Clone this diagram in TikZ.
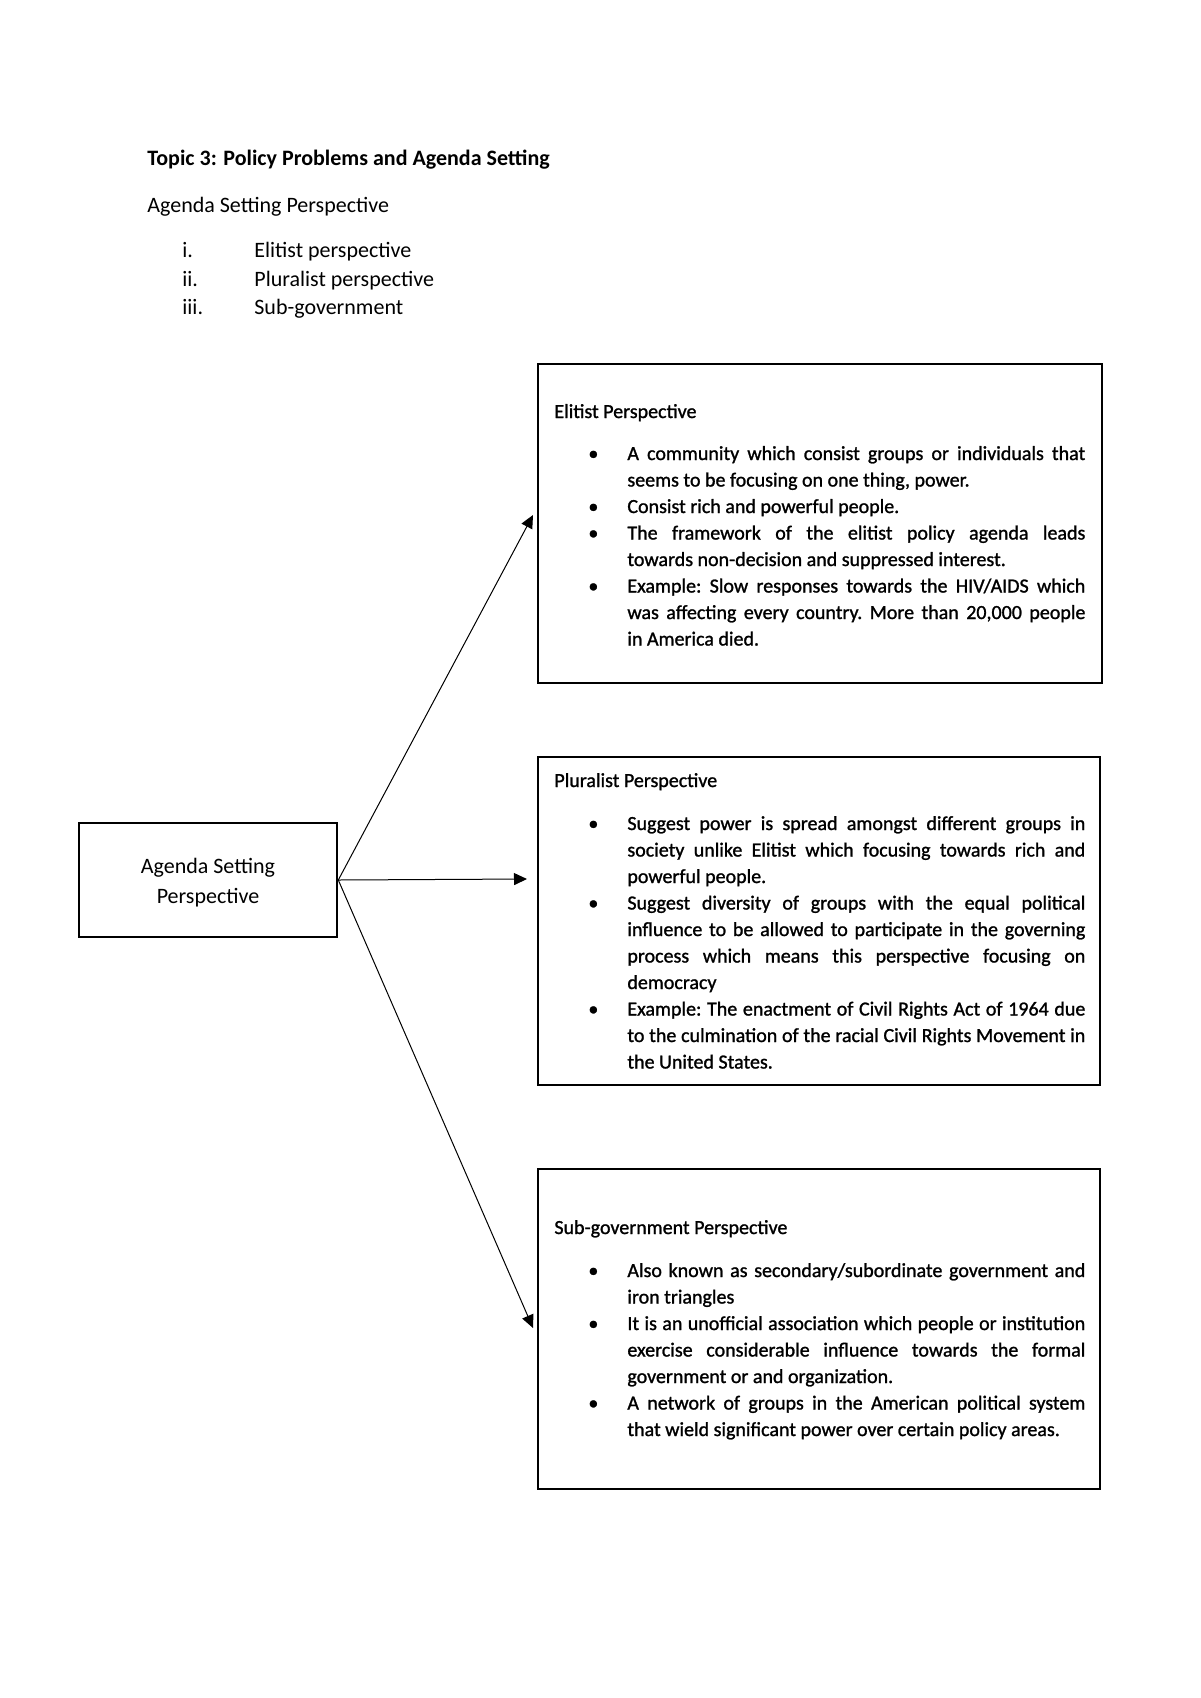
\documentclass[tikz,border=0pt]{standalone}
\usepackage{fontspec}
\setmainfont{Carlito}
\newfontfamily\boxfont{Carlito}[FakeBold=1.2]
\usetikzlibrary{arrows.meta}
\newcommand{\bitem}[1]{\noindent\hangindent=36.5pt\hangafter=0\llap{\makebox[19.5pt][l]{\textbullet}}#1\par}
\tikzset{
  plain/.style={anchor=base west, inner sep=0pt, font=\fontsize{11pt}{13pt}\selectfont},
  titletext/.style={plain, font=\bfseries\fontsize{11pt}{13pt}\selectfont},
  frame/.style={draw, line width=1.3pt, inner sep=0pt},
  headtext/.style={anchor=base west, inner sep=0pt, font=\boxfont\fontsize{10pt}{13.25pt}\selectfont},
  bodytext/.style={anchor=base west, inner sep=0pt, text width=265.5pt, align=justify, font=\boxfont\fontsize{10pt}{13.25pt}\selectfont\frenchspacing},
  arr/.style={line width=0.5pt, -{Triangle[length=6.5pt,width=6pt]}}
}
\begin{document}
\begin{tikzpicture}[x=0.5pt,y=-0.5pt]
\useasboundingbox[fill=white] (0,0) rectangle (1200,1698);
% header texts
\node[titletext] (title) at (147,165) {Topic 3: Policy Problems and Agenda Setting};
\node[plain] (sub) at (147,212) {Agenda Setting Perspective};
\node[plain] (l1) at (182,257) {i.};
\node[plain] (l2) at (182,286) {ii.};
\node[plain] (l3) at (182,314) {iii.};
\node[plain] (t1) at (254,257) {Elitist perspective};
\node[plain] (t2) at (254,286) {Pluralist perspective};
\node[plain] (t3) at (254,314) {Sub-government};
% boxes
\node[frame, minimum width=129pt, minimum height=57pt] (agenda) at (208,880) {};
\node[inner sep=0pt, align=center, font=\fontsize{11pt}{15pt}\selectfont, anchor=base] (agendatext) at (208,903) {Agenda Setting\\Perspective};
\node[frame, minimum width=282pt, minimum height=159.5pt] (elit) at (820,523.5) {};
\node[frame, minimum width=281pt, minimum height=164pt] (plur) at (819,921) {};
\node[frame, minimum width=281pt, minimum height=160pt] (subg) at (819,1329) {};
% box texts
\node[headtext] (ehead) at (554,418) {Elitist Perspective};
\node[bodytext] (ebody) at (554,460) {%
\bitem{A community which consist groups or individuals that \linebreak seems to be focusing on one thing, power.}%
\bitem{Consist rich and powerful people.}%
\bitem{The framework of the elitist policy agenda leads \linebreak towards non-decision and suppressed interest.}%
\bitem{Example: Slow responses towards the HIV/AIDS which \linebreak was affecting every country. More than 20,000 people \linebreak in America died.}};
\node[headtext] (phead) at (554,787) {Pluralist Perspective};
\node[bodytext] (pbody) at (554,830) {%
\bitem{Suggest power is spread amongst different groups in \linebreak society unlike Elitist which focusing towards rich and \linebreak powerful people.}%
\bitem{Suggest diversity of groups with the equal political \linebreak influence to be allowed to participate in the governing \linebreak process which means this perspective focusing on \linebreak democracy}%
\bitem{Example: The enactment of Civil Rights Act of 1964 due \linebreak to the culmination of the racial Civil Rights Movement in \linebreak the United States.}};
\node[headtext] (shead) at (554,1234) {Sub-government Perspective};
\node[bodytext] (sbody) at (554,1277) {%
\bitem{Also known as secondary/subordinate government and \linebreak iron triangles}%
\bitem{It is an unofficial association which people or institution \linebreak exercise considerable influence towards the formal \linebreak government or and organization.}%
\bitem{A network of groups in the American political system \linebreak that wield significant power over certain policy areas.}};
% connectors
\coordinate (tipE) at (533,515);
\coordinate (tipP) at (527,879);
\coordinate (tipS) at (533,1328);
\draw[arr] (agenda.east) -- (tipE);
\draw[arr] (agenda.east) -- (tipP);
\draw[arr] (agenda.east) -- (tipS);
\end{tikzpicture}
\end{document}
